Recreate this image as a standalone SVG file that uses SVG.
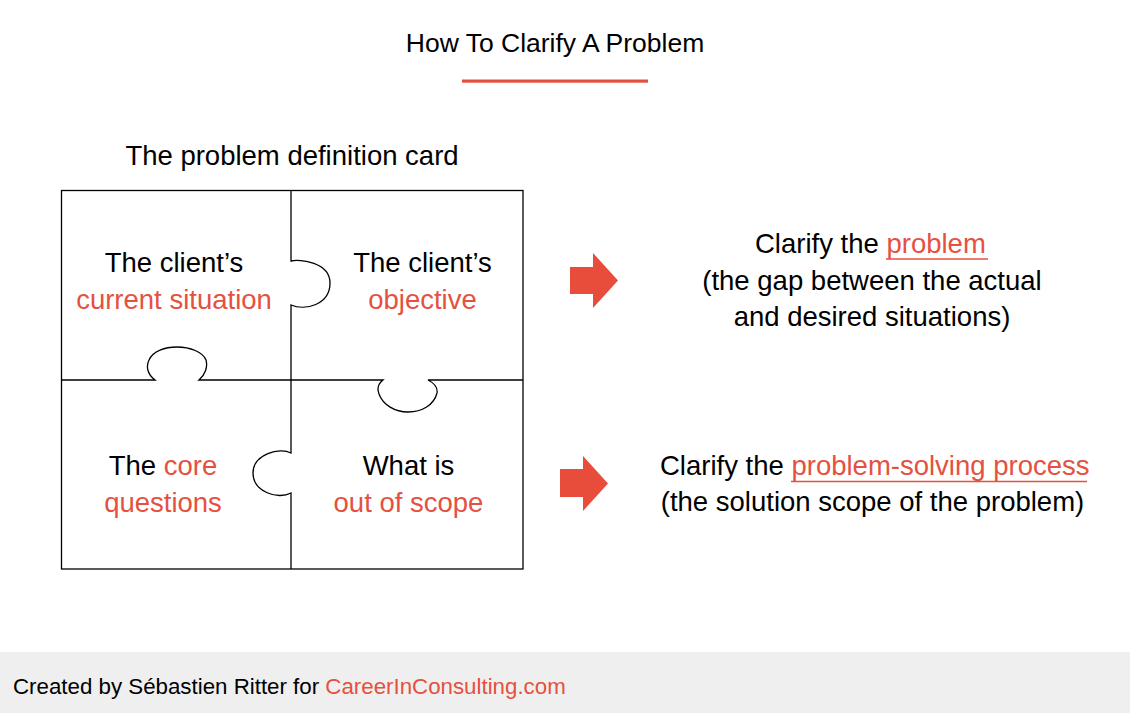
<svg xmlns="http://www.w3.org/2000/svg" width="1130" height="713" viewBox="0 0 1130 713">
<style>
.t{font-family:"Liberation Sans",Arial,sans-serif;fill:#000;}
.r{fill:#E5513F;}
.ln{fill:none;stroke:#000;stroke-width:1.3;}
.arr{fill:#E84C3A;}
.ul{stroke:#E5513F;stroke-width:1.6;}
</style>
<rect x="0" y="0" width="1130" height="713" fill="#fff"/>
<g id="title">
<text class="t" x="555" y="52" font-size="26.5" text-anchor="middle">How To Clarify A Problem</text>
<rect x="462" y="79.5" width="186" height="3.2" fill="#E5513F"/>
</g>
<g id="card-label">
<text class="t" x="292" y="165" font-size="27.5" text-anchor="middle">The problem definition card</text>
</g>
<g id="puzzle">
<rect class="ln" x="61.5" y="190.5" width="461.5" height="378.5"/>
<path class="ln" d="M291,190.5 V261 C300,259 330,262 330,283 C330,305 305,311 291,305 V453 C280,447 253,454 253,473 C253,492 278,500 291,493 V569"/>
<path class="ln" d="M61.5,380 H155 C147,374 146,366 149,360 C153,351 165,347 177,347 C190,347 203,352 206,360 C208,367 205,375 199,380 H383 C378,384 377,389 379,394 C383,405 395,412 408,412 C422,412 434,405 437,393 C438,388 434,383 428,380 H523"/>
</g>
<g id="node-current-situation">
<text class="t" x="174" y="272" font-size="27.5" text-anchor="middle">The client’s</text>
<text class="t r" x="174" y="309" font-size="27.5" text-anchor="middle">current situation</text>
</g>
<g id="node-objective">
<text class="t" x="422.5" y="272" font-size="27.5" text-anchor="middle">The client’s</text>
<text class="t r" x="422.5" y="309" font-size="27.5" text-anchor="middle">objective</text>
</g>
<g id="node-core-questions">
<text class="t" x="163" y="475" font-size="27.5" text-anchor="middle">The <tspan class="r">core</tspan></text>
<text class="t r" x="163" y="512" font-size="27.5" text-anchor="middle">questions</text>
</g>
<g id="node-out-of-scope">
<text class="t" x="408.5" y="475" font-size="27.5" text-anchor="middle">What is</text>
<text class="t r" x="408.5" y="512" font-size="27.5" text-anchor="middle">out of scope</text>
</g>
<g id="connectors">
<path class="arr" d="M570,267 H593 V253 L618,280.5 L593,308 V294 H570 Z"/>
<path class="arr" d="M560,469 H583 V456 L608,483.5 L583,511 V497 H560 Z"/>
</g>
<g id="node-clarify-problem">
<text class="t" x="755" y="253" font-size="27.5">Clarify the <tspan class="r">problem</tspan></text>
<line class="ul" x1="886" y1="259" x2="988" y2="259"/>
<text class="t" x="872" y="290" font-size="27.5" text-anchor="middle">(the gap between the actual</text>
<text class="t" x="872" y="326" font-size="27.5" text-anchor="middle">and desired situations)</text>
</g>
<g id="node-clarify-process">
<text class="t" x="660" y="475" font-size="27.5">Clarify the <tspan class="r">problem-solving process</tspan></text>
<line class="ul" x1="791" y1="481.5" x2="1087" y2="481.5"/>
<text class="t" x="872.5" y="511" font-size="27.5" text-anchor="middle">(the solution scope of the problem)</text>
</g>
<g id="footer">
<rect x="0" y="652" width="1130" height="61" fill="#EFEFEF"/>
<text class="t" x="13" y="694" font-size="22.3">Created by Sébastien Ritter for <tspan class="r">CareerInConsulting.com</tspan></text>
</g>
</svg>
